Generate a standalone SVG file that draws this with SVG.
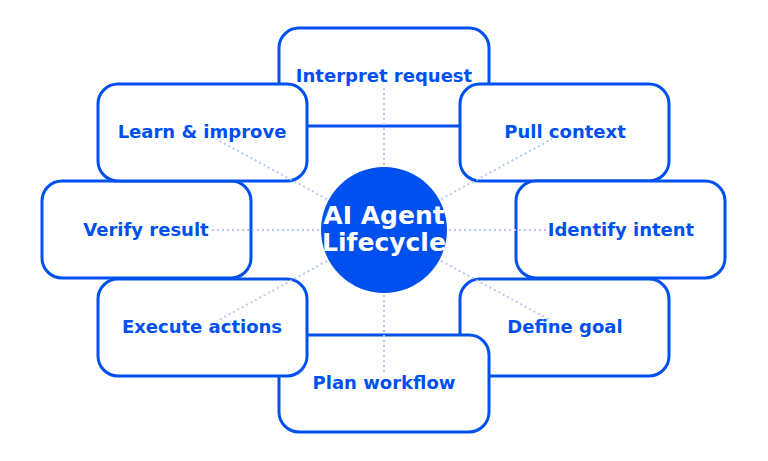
<svg xmlns="http://www.w3.org/2000/svg" width="768" height="461" viewBox="0 0 768 461">
<style>
.box{fill:#ffffff;stroke:#0050ef;stroke-width:3}
.lbl{font-family:"DejaVu Sans",sans-serif;font-weight:bold;font-size:18px;fill:#0050ef;text-anchor:middle}
.ctr{font-family:"DejaVu Sans",sans-serif;font-weight:bold;font-size:25px;fill:#ffffff;text-anchor:middle}
.dot{stroke:#b4c9f6;stroke-width:2;stroke-dasharray:2 3;fill:none}
</style>
<rect width="768" height="461" fill="#ffffff"/>
<g id="interpret"><rect class="box" x="279" y="28" width="210" height="98" rx="20"/><text class="lbl" x="384" y="82">Interpret request</text></g>
<g id="pull"><rect class="box" x="460" y="84" width="209" height="97" rx="20"/><text class="lbl" x="565" y="138">Pull context</text></g>
<g id="identify"><rect class="box" x="516" y="181" width="209" height="97" rx="20"/><text class="lbl" x="621" y="236">Identify intent</text></g>
<g id="define"><rect class="box" x="460" y="279" width="209" height="97" rx="20"/><text class="lbl" x="565" y="333">Define goal</text></g>
<g id="plan"><rect class="box" x="279" y="335" width="210" height="97" rx="20"/><text class="lbl" x="384" y="389">Plan workflow</text></g>
<g id="execute"><rect class="box" x="98" y="279" width="209" height="97" rx="20"/><text class="lbl" x="202" y="333">Execute actions</text></g>
<g id="verify"><rect class="box" x="42" y="181" width="209" height="97" rx="20"/><text class="lbl" x="146" y="236">Verify result</text></g>
<g id="learn"><rect class="box" x="98" y="84" width="209" height="97" rx="20"/><text class="lbl" x="202" y="138">Learn &amp; improve</text></g>
<g id="connectors">
<line class="dot" x1="384" y1="230" x2="384" y2="87"/>
<line class="dot" x1="384" y1="230" x2="552" y2="139"/>
<line class="dot" x1="384" y1="230" x2="547" y2="230"/>
<line class="dot" x1="384" y1="230" x2="550" y2="320"/>
<line class="dot" x1="384" y1="230" x2="384" y2="373"/>
<line class="dot" x1="384" y1="230" x2="217" y2="321"/>
<line class="dot" x1="384" y1="230" x2="211" y2="230"/>
<line class="dot" x1="384" y1="230" x2="216" y2="139"/>
</g>
<g id="center"><circle cx="384" cy="230" r="63" fill="#0050ef"/><text class="ctr" x="384" y="224">AI Agent</text><text class="ctr" x="384" y="251">Lifecycle</text></g>
</svg>
